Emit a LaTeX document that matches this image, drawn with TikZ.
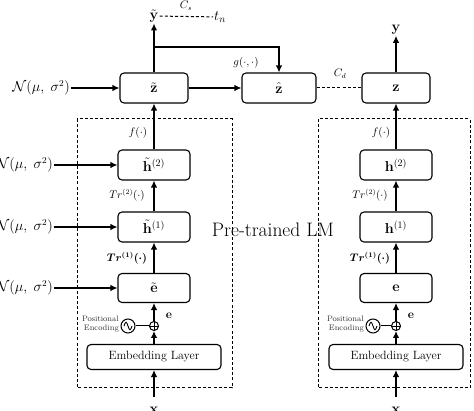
\documentclass[tikz,border=0pt]{standalone}
\usepackage{amsmath,amssymb,bm}
\usetikzlibrary{arrows.meta}
\begin{document}
\begin{tikzpicture}[x=1pt,y=-1pt,
  box/.style={draw, rounded corners=4pt, line width=1.1pt, minimum height=30pt, inner sep=0pt, font=\fontsize{14}{16}\selectfont},
  arr/.style={-{Latex[length=7pt,width=6.5pt]}, line width=1.2pt},
  dsh/.style={dash pattern=on 3pt off 2.2pt, line width=1pt},
  lbl/.style={font=\fontsize{10.5}{12}\selectfont, inner sep=1pt},
  nlab/.style={font=\fontsize{13.5}{16}\selectfont, inner sep=1pt, anchor=east},
  pe/.style={font=\fontsize{8}{9}\selectfont, align=right, inner sep=0pt, text=black!80, anchor=east},
  small/.style={draw, circle, line width=1pt, inner sep=0pt},
  vec/.style={font=\fontsize{14}{16}\selectfont, inner sep=1pt}
]
\useasboundingbox (0,0) rectangle (474,411);

% top row
\node[box, minimum width=68pt] (zt) at (154,88) {$\tilde{\mathbf{z}}$};
\node[box, minimum width=74pt] (zh) at (279,88) {$\hat{\mathbf{z}}$};
\node[box, minimum width=68pt] (z) at (396,88) {$\mathbf{z}$};
\node[vec] (yt) at (154,16) {$\tilde{\mathbf{y}}$};
\node[vec] (tn) at (220,17) {$t_n$};
\node[lbl] (cs) at (186,6) {$C_s$};
\draw[dsh] (yt) -- (tn);
\node[vec] (y) at (396,30) {$\mathbf{y}$};
\draw[arr] (zt) -- (yt);
\coordinate (br) at (154,47);
\draw[arr] (br) -| (zh);
\node[lbl] (g) at (246,63) {$g(\cdot,\cdot)$};
\draw[arr] (zt) -- (zh);
\draw[dsh] (zh) -- (z);
\node[lbl] (cd) at (340,74) {$C_d$};
\draw[arr] (z) -- (y);
\node[nlab] (n0) at (71,88) {$\mathcal{N}(\mu,\;\sigma^2)$};
\draw[arr] (n0) -- (zt);

% dashed frames
\draw[dsh] (77,119) rectangle (232,388);
\draw[dsh] (318,119) rectangle (470,388);
\node[font=\fontsize{19.5}{22}\selectfont] (ptlm) at (273,230) {Pre-trained LM};

% left column
\node[box, minimum width=72pt] (h2t) at (154,165) {$\tilde{\mathbf{h}}^{(2)}$};
\node[box, minimum width=72pt] (h1t) at (154,227) {$\tilde{\mathbf{h}}^{(1)}$};
\node[box, minimum width=72pt, minimum height=29pt] (et) at (154,288) {$\tilde{\mathbf{e}}$};
\node[box, minimum width=134pt, minimum height=25pt, font=\fontsize{12}{14}\selectfont] (embl) at (154,357) {Embedding Layer};
\node[small, minimum size=9pt] (opl) at (154,326) {};
\draw[line width=0.9pt] (opl.north) -- (opl.south) (opl.west) -- (opl.east);
\node[small, minimum size=14pt] (sinl) at (128,326) {};
\draw[line width=0.9pt] ([xshift=-4pt]sinl.center) .. controls +(1.5,-5) and +(-1.5,-5) .. (sinl.center) .. controls +(1.5,5) and +(-1.5,5) .. ([xshift=4pt]sinl.center);
\draw[line width=1pt] (sinl) -- (opl);
\node[pe] (pel) at (119,324) {Positional\\Encoding};
\node[font=\fontsize{12}{14}\selectfont, inner sep=1pt] (elab) at (169,316) {$\mathbf{e}$};
\coordinate (xl) at (154,397);
\node[vec] (xlab) at (154,410) {$\mathbf{x}$};
\draw[arr] (xl) -- (embl);
\draw[arr] (embl) -- (opl);
\draw[arr] (opl) -- (et);
\draw[arr] (et) -- (h1t);
\draw[arr] (h1t) -- (h2t);
\draw[arr] (h2t) -- (zt);
\node[lbl] at (138,133) {$f(\cdot)$};
\node[lbl] at (127,195) {$Tr^{(2)}(\cdot)$};
\node[lbl] at (127,258) {$\boldsymbol{Tr^{(1)}(\cdot)}$};
\node[nlab] (n2) at (54,165) {$\mathcal{N}(\mu,\;\sigma^2)$};
\node[nlab] (n1) at (54,227) {$\mathcal{N}(\mu,\;\sigma^2)$};
\node[nlab] (ne) at (54,288) {$\mathcal{N}(\mu,\;\sigma^2)$};
\draw[arr] (n2) -- (h2t);
\draw[arr] (n1) -- (h1t);
\draw[arr] (ne) -- (et);

% right column
\node[box, minimum width=72pt] (h2) at (396,165) {$\mathbf{h}^{(2)}$};
\node[box, minimum width=72pt] (h1) at (396,227) {$\mathbf{h}^{(1)}$};
\node[box, minimum width=72pt, minimum height=29pt] (e) at (396,288) {$\mathbf{e}$};
\node[box, minimum width=134pt, minimum height=25pt, font=\fontsize{12}{14}\selectfont] (embr) at (396,357) {Embedding Layer};
\node[small, minimum size=9pt] (opr) at (396,326) {};
\draw[line width=0.9pt] (opr.north) -- (opr.south) (opr.west) -- (opr.east);
\node[small, minimum size=14pt] (sinr) at (373,326) {};
\draw[line width=0.9pt] ([xshift=-4pt]sinr.center) .. controls +(1.5,-5) and +(-1.5,-5) .. (sinr.center) .. controls +(1.5,5) and +(-1.5,5) .. ([xshift=4pt]sinr.center);
\draw[line width=1pt] (sinr) -- (opr);
\node[pe] (per) at (364,324) {Positional\\Encoding};
\node[font=\fontsize{12}{14}\selectfont, inner sep=1pt] (erlab) at (411,316) {$\mathbf{e}$};
\coordinate (xr) at (396,397);
\node[vec] (xrlab) at (396,410) {$\mathbf{x}$};
\draw[arr] (xr) -- (embr);
\draw[arr] (embr) -- (opr);
\draw[arr] (opr) -- (e);
\draw[arr] (e) -- (h1);
\draw[arr] (h1) -- (h2);
\draw[arr] (h2) -- (z);
\node[lbl] at (381,133) {$f(\cdot)$};
\node[lbl] at (370,195) {$Tr^{(2)}(\cdot)$};
\node[lbl] at (370,258) {$\boldsymbol{Tr^{(1)}(\cdot)}$};
\end{tikzpicture}
\end{document}
